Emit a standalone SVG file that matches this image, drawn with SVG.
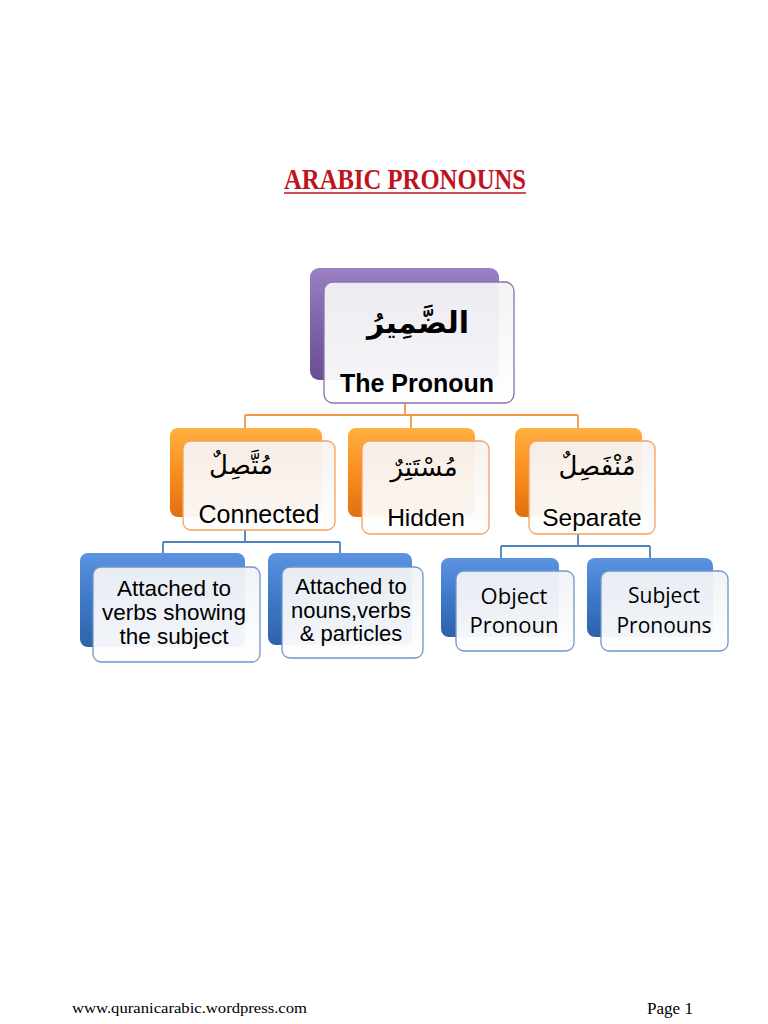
<svg xmlns="http://www.w3.org/2000/svg" width="768" height="1024" viewBox="0 0 768 1024">
<defs>
<linearGradient id="gPurple" x1="0" y1="0" x2="0" y2="1">
<stop offset="0" stop-color="#9A80C4"/><stop offset="0.5" stop-color="#8064A8"/><stop offset="1" stop-color="#6A4E90"/>
</linearGradient>
<linearGradient id="gOrange" x1="0" y1="0" x2="0" y2="1">
<stop offset="0" stop-color="#FFB040"/><stop offset="0.5" stop-color="#F98E1E"/><stop offset="1" stop-color="#E07010"/>
</linearGradient>
<linearGradient id="gBlue" x1="0" y1="0" x2="0" y2="1">
<stop offset="0" stop-color="#5B93E0"/><stop offset="0.5" stop-color="#3E79C8"/><stop offset="1" stop-color="#2E62A8"/>
</linearGradient>
<linearGradient id="gFront" x1="0" y1="0" x2="0" y2="1">
<stop offset="0" stop-color="#F2F2F4"/><stop offset="1" stop-color="#FFFFFF"/>
</linearGradient>
<linearGradient id="gFrontO" x1="0" y1="0" x2="0" y2="1">
<stop offset="0" stop-color="#F6F2EF"/><stop offset="1" stop-color="#FFFFFF"/>
</linearGradient>
<linearGradient id="gFrontB" x1="0" y1="0" x2="0" y2="1">
<stop offset="0" stop-color="#F0F2F5"/><stop offset="1" stop-color="#FFFFFF"/>
</linearGradient>
</defs>
<style>
.bp{fill:url(#gPurple);}
.bo{fill:url(#gOrange);}
.bb{fill:url(#gBlue);}
.fp{fill:url(#gFront);fill-opacity:0.95;stroke:#8A72B0;stroke-width:1.3;}
.fo{fill:url(#gFrontO);fill-opacity:0.95;stroke:#F5A060;stroke-width:1.3;}
.fb{fill:url(#gFrontB);fill-opacity:0.95;stroke:#6E96CC;stroke-width:1.3;}
.co{fill:none;stroke:#F79646;stroke-width:1.8;}
.cb{fill:none;stroke:#4F81BD;stroke-width:1.8;}
.ar{font-family:"DejaVu Sans","Noto Sans",sans-serif;fill:#000;text-anchor:middle;}
.en{font-family:"Liberation Sans",Arial,sans-serif;fill:#000;text-anchor:middle;}
.ca{font-family:"Open Sans","Noto Sans",sans-serif;fill:#000;text-anchor:middle;}
</style>
<rect width="768" height="1024" fill="#FFFFFF"/>

<g id="title">
<text x="405" y="189" font-family="Liberation Serif,serif" font-weight="bold" font-size="30" fill="#C0141C" text-anchor="middle" textLength="242" lengthAdjust="spacingAndGlyphs">ARABIC PRONOUNS</text>
<line x1="284" y1="193" x2="526" y2="193" stroke="#C0141C" stroke-width="1.5"/>
</g>

<g id="connectors">
<path class="co" d="M405,403 V415 M245,415 H578 M245,415 V428 M411,415 V428 M578,415 V428"/>
<path class="cb" d="M245,530 V542 M163,542 H340 M163,542 V553 M340,542 V553"/>
<path class="cb" d="M578,534 V546 M501,546 H650 M501,546 V558 M650,546 V558"/>
</g>

<g id="node-pronoun">
<rect class="bp" x="310" y="268" width="189" height="112" rx="9"/>
<rect class="fp" x="324" y="282" width="190" height="121" rx="9"/>
<text class="ar" x="418" y="333" font-size="30" font-weight="bold" direction="rtl">الضَّمِيرُ</text>
<text class="en" x="417" y="392" font-size="25" font-weight="bold">The Pronoun</text>
</g>

<g id="node-connected">
<rect class="bo" x="170" y="428" width="152" height="89" rx="8"/>
<rect class="fo" x="183" y="441" width="152" height="89" rx="8"/>
<text class="ar" x="241" y="474" font-size="26" direction="rtl">مُتَّصِلٌ</text>
<text class="en" x="259" y="523" font-size="25">Connected</text>
</g>

<g id="node-hidden">
<rect class="bo" x="348" y="428" width="127" height="89" rx="8"/>
<rect class="fo" x="362" y="441" width="127" height="93" rx="8"/>
<text class="ar" x="424" y="476" font-size="26" direction="rtl">مُسْتَتِرٌ</text>
<text class="en" x="426" y="526" font-size="24.5">Hidden</text>
</g>

<g id="node-separate">
<rect class="bo" x="515" y="428" width="127" height="89" rx="8"/>
<rect class="fo" x="529" y="441" width="126" height="93" rx="8"/>
<text class="ar" x="597" y="475" font-size="26" direction="rtl">مُنْفَصِلٌ</text>
<text class="en" x="592" y="526" font-size="24.5">Separate</text>
</g>

<g id="node-verbs">
<rect class="bb" x="80" y="553" width="165" height="94" rx="8"/>
<rect class="fb" x="93" y="567" width="167" height="95" rx="8"/>
<text class="en" x="174" y="596" font-size="22.5">Attached to</text>
<text class="en" x="174" y="620" font-size="22.5">verbs showing</text>
<text class="en" x="174" y="644" font-size="22.5">the subject</text>
</g>

<g id="node-nouns">
<rect class="bb" x="268" y="553" width="144" height="92" rx="8"/>
<rect class="fb" x="282" y="567" width="141" height="91" rx="8"/>
<text class="en" x="351" y="594" font-size="22">Attached to</text>
<text class="en" x="351" y="618" font-size="22">nouns,verbs</text>
<text class="en" x="351" y="641" font-size="22">&amp; particles</text>
</g>

<g id="node-object">
<rect class="bb" x="441" y="558" width="118" height="79" rx="8"/>
<rect class="fb" x="456" y="571" width="118" height="80" rx="8"/>
<text class="ca" x="514" y="604" font-size="22">Object</text>
<text class="ca" x="514" y="633" font-size="22">Pronoun</text>
</g>

<g id="node-subject">
<rect class="bb" x="587" y="558" width="126" height="79" rx="8"/>
<rect class="fb" x="601" y="571" width="127" height="80" rx="8"/>
<text class="ca" x="664" y="603" font-size="21">Subject</text>
<text class="ca" x="664" y="633" font-size="21">Pronouns</text>
</g>

<g id="footer">
<text x="72" y="1013" font-family="Liberation Serif,serif" font-size="14" fill="#000" textLength="235" lengthAdjust="spacingAndGlyphs">www.quranicarabic.wordpress.com</text>
<text x="647" y="1014" font-family="Liberation Serif,serif" font-size="16" fill="#000" textLength="46" lengthAdjust="spacingAndGlyphs">Page 1</text>
</g>
</svg>
